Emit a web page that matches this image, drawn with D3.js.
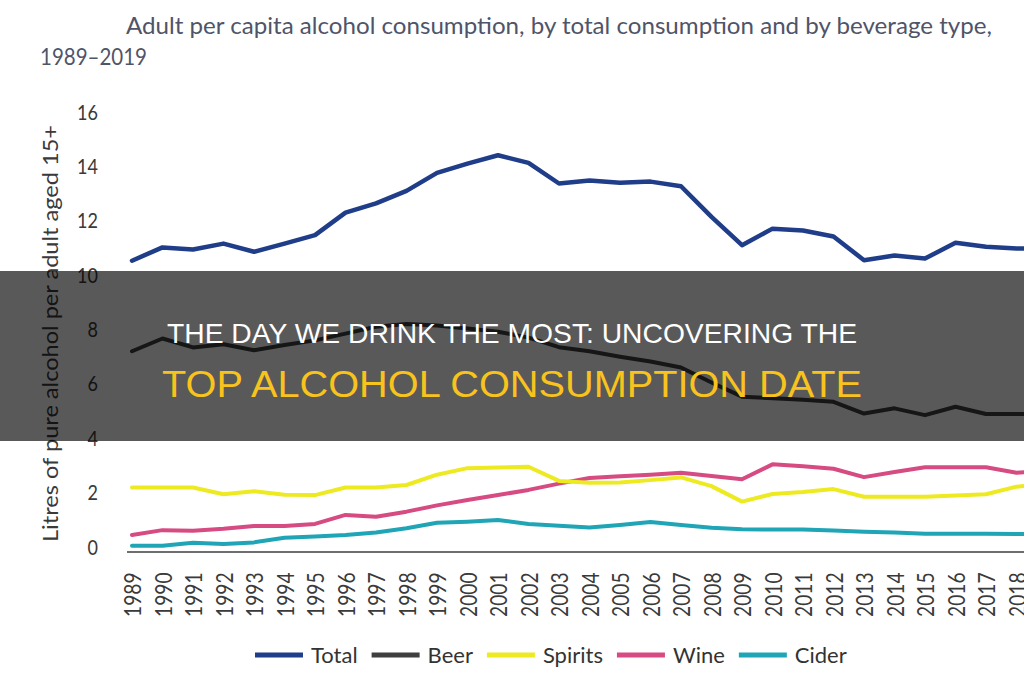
<!DOCTYPE html>
<html><head><meta charset="utf-8">
<script src="https://cdn.jsdelivr.net/npm/d3@7"></script>
<style>html,body{margin:0;padding:0;background:#fff;overflow:hidden}</style>
</head><body><svg id="chart" width="1024" height="680"></svg>
<script>
const years = [1989,1990,1991,1992,1993,1994,1995,1996,1997,1998,1999,2000,2001,2002,2003,2004,2005,2006,2007,2008,2009,2010,2011,2012,2013,2014,2015,2016,2017,2018,2019];
const total = [10.53,11.02,10.94,11.16,10.86,11.16,11.47,12.3,12.64,13.1,13.76,14.1,14.41,14.13,13.37,13.48,13.4,13.44,13.27,12.14,11.1,11.71,11.64,11.42,10.55,10.72,10.61,11.19,11.04,10.98,10.98];
const beer = [7.2,7.67,7.34,7.46,7.24,7.43,7.6,7.85,8.1,8.2,8.15,8.04,7.92,7.7,7.35,7.2,7.0,6.82,6.6,6.05,5.53,5.47,5.42,5.34,4.91,5.1,4.85,5.16,4.89,4.89,4.89];
const spirits = [2.19,2.19,2.19,1.94,2.05,1.92,1.91,2.19,2.19,2.28,2.66,2.9,2.92,2.95,2.43,2.36,2.37,2.46,2.56,2.24,1.67,1.95,2.02,2.13,1.85,1.85,1.85,1.89,1.94,2.22,2.3];
const wine = [0.44,0.62,0.6,0.67,0.77,0.77,0.85,1.18,1.11,1.3,1.53,1.73,1.91,2.1,2.33,2.54,2.6,2.66,2.73,2.61,2.49,3.04,2.97,2.88,2.57,2.76,2.93,2.93,2.93,2.73,2.8];
const cider = [0.05,0.05,0.16,0.11,0.17,0.34,0.39,0.44,0.53,0.69,0.89,0.93,0.99,0.85,0.78,0.72,0.81,0.92,0.81,0.71,0.65,0.64,0.64,0.61,0.56,0.53,0.49,0.49,0.49,0.48,0.48];
const xTickYears = [1989,1990,1991,1992,1993,1994,1995,1996,1997,1998,1999,2000,2001,2002,2003,2004,2005,2006,2007,2008,2009,2010,2011,2012,2013,2014,2015,2016,2017,2018];
const seriesNames = ["Total","Beer","Spirits","Wine","Cider"];
const seriesColors = ["#1f3d88","#3f3f3f","#eeea22","#d64b82","#1fa5b6"];
const yTicks = [0,2,4,6,8,10,12,14,16];
const titleLine1 = "Adult per capita alcohol consumption, by total consumption and by beverage type,";
const titleLine2 = "1989–2019";
const yLabel = "Litres of pure alcohol per adult aged 15+";
const bannerLine1 = "THE DAY WE DRINK THE MOST: UNCOVERING THE";
const bannerLine2 = "TOP ALCOHOL CONSUMPTION DATE";

const seriesValues = [total, beer, spirits, wine, cider];
const W = 1024, H = 680;
const font = "Lato, 'Noto Sans', sans-serif";
const svg = d3.select("#chart");
svg.append("rect").attr("width", W).attr("height", H).attr("fill", "#fff");

const x = d3.scaleLinear().domain([1989, 2018]).range([132, 1016.5]);
const y = d3.scaleLinear().domain([0, 16]).range([547, 112]);

// title
svg.append("text").attr("x", 126).attr("y", 34).attr("font-family", font).attr("font-size", 23)
  .attr("fill", "#4f5469").attr("textLength", 866).attr("lengthAdjust", "spacingAndGlyphs").text(titleLine1);
svg.append("text").attr("x", 40).attr("y", 65).attr("font-family", font).attr("font-size", 23)
  .attr("fill", "#4f5469").attr("textLength", 107).attr("lengthAdjust", "spacingAndGlyphs").text(titleLine2);

// y axis
const sY = 0.82;
const yAxis = svg.append("g").attr("transform", "translate(106,0)")
  .call(d3.axisLeft(y).tickValues(yTicks).tickSize(0).tickPadding(8).tickFormat(d3.format("d")));
yAxis.select(".domain").remove();
yAxis.selectAll("text").attr("font-family", font).attr("font-size", 22).attr("fill", "#3a3a3a")
  .attr("transform", "scale(" + sY + ",1)").attr("x", -8 / sY);

svg.append("text").attr("transform", "translate(58," + ((y(16) + y(0)) / 2 + 4) + ") rotate(-90)")
  .attr("text-anchor", "middle").attr("font-family", font).attr("font-size", 22).attr("fill", "#3a3a3a")
  .attr("textLength", 417).attr("lengthAdjust", "spacingAndGlyphs").text(yLabel);

// x axis
const xAxisY = y(0) + 5;
const sX = 0.8;
const xAxis = svg.append("g").attr("transform", "translate(0," + xAxisY + ")")
  .call(d3.axisBottom(x).tickValues(xTickYears).tickSize(0).tickFormat(d3.format("d")));
xAxis.select(".domain").remove();
xAxis.selectAll("text").attr("font-family", font).attr("font-size", 24).attr("fill", "#3a3a3a")
  .attr("transform", "rotate(-90) scale(" + sX + ",1)").attr("x", -65 / sX).attr("y", 0).attr("dy", "0.36em")
  .attr("text-anchor", "start");
svg.append("line").attr("x1", x(1989) - 5).attr("x2", W).attr("y1", xAxisY).attr("y2", xAxisY)
  .attr("stroke", "#6e6e6e").attr("stroke-width", 2);

// lines
const line = d3.line().x((d, i) => x(years[i])).y(d => y(d));
const drawOrder = [4, 3, 2, 1, 0];
drawOrder.forEach(k => {
  svg.append("path").datum(seriesValues[k]).attr("d", line).attr("fill", "none")
    .attr("stroke", seriesColors[k]).attr("stroke-width", k === 0 ? 4.5 : 4)
    .attr("stroke-linejoin", "round").attr("stroke-linecap", "round");
});

// legend
const legend = svg.append("g").attr("transform", "translate(255,655)");
let lx = 0;
seriesNames.forEach((name, k) => {
  legend.append("line").attr("x1", lx).attr("x2", lx + 48).attr("y1", 0).attr("y2", 0)
    .attr("stroke", seriesColors[k]).attr("stroke-width", 5);
  const t = legend.append("text").attr("x", lx + 56).attr("y", 0).attr("dy", "0.35em")
    .attr("font-family", font).attr("font-size", 22).attr("fill", "#333").text(name);
  lx += 56 + t.node().getComputedTextLength() + 14;
});

// banner overlay
svg.append("rect").attr("x", 0).attr("y", 271).attr("width", W).attr("height", 170)
  .attr("fill", "#000").attr("fill-opacity", 0.65);
svg.append("text").attr("x", W / 2).attr("y", 343).attr("text-anchor", "middle")
  .attr("font-family", "'Liberation Sans', Arial, sans-serif").attr("font-size", 28).attr("fill", "#ffffff")
  .attr("textLength", 690).attr("lengthAdjust", "spacingAndGlyphs").text(bannerLine1);
svg.append("text").attr("x", W / 2).attr("y", 397).attr("text-anchor", "middle")
  .attr("font-family", "'Liberation Sans', Arial, sans-serif").attr("font-size", 37).attr("fill", "#f8c31c")
  .attr("textLength", 700).attr("lengthAdjust", "spacingAndGlyphs").text(bannerLine2);
</script>
</body></html>
